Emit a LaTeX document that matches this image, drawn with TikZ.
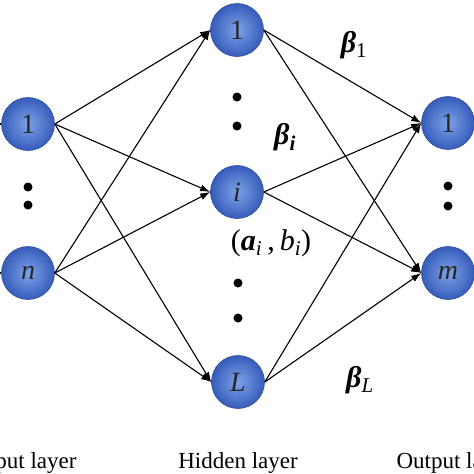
\documentclass[tikz,border=0pt]{standalone}
\usepackage{fontspec}
\setmainfont{Liberation Serif}
\usetikzlibrary{arrows.meta}
\definecolor{ballin}{RGB}{125,162,232}
\definecolor{ballout}{RGB}{55,92,186}
\tikzset{
  neuron/.style={circle, minimum size=53pt, inner sep=0pt, shade, inner color=ballin, outer color=ballout, draw=ballout!85!black, line width=0.6pt, font=\fontsize{28}{30}\selectfont, text=black!85},
  conn/.style={line width=1.1pt, -{Latex[length=10pt,width=7pt]}},
  plain/.style={line width=1.1pt},
  dotc/.style={circle, fill=black, minimum size=9pt, inner sep=0pt},
  lbl/.style={font=\fontsize{23}{26}\selectfont, anchor=base},
  wlbl/.style={font=\fontsize{30}{32}\selectfont}
}
\begin{document}
\begin{tikzpicture}[x=1pt,y=-1pt]
\useasboundingbox (0,0) rectangle (474,474);
\fill[white] (0,0) rectangle (474,474);
% nodes
\node[neuron] (in1) at (28,124) {1};
\node[neuron] (inn) at (28,273) {\textit{n}};
\node[neuron] (h1) at (237,30) {1};
\node[neuron] (hi) at (237,192) {\textit{i}};
\node[neuron] (hL) at (238,382) {\textit{L}};
\node[neuron] (o1) at (448,123) {1};
\node[neuron] (om) at (448,273) {\textit{m}};
% incoming stubs
\coordinate (s1) at (-10,124);
\coordinate (sn) at (-10,273);
\draw[plain] (s1) -- (in1.west);
\draw[plain] (sn) -- (inn.west);
% dots
\node[dotc] (d1) at (28,187) {};
\node[dotc] (d2) at (28,205) {};
\node[dotc] (d3) at (237,97) {};
\node[dotc] (d4) at (237,126) {};
\node[dotc] (d5) at (238,283) {};
\node[dotc] (d6) at (238,318) {};
\node[dotc] (d7) at (448,186) {};
\node[dotc] (d8) at (448,206) {};
% connections
\foreach \a in {in1,inn}{
  \foreach \b in {h1,hi,hL}{
    \draw[conn] (\a.east) -- (\b.west);
  }
}
\foreach \a in {h1,hi,hL}{
  \foreach \b in {o1,om}{
    \draw[conn] (\a.east) -- (\b.west);
  }
}
% labels
\node[wlbl] (b1) at (354,45) {\textbf{\textit{β}}\textsubscript{1}};
\node[wlbl] (bi) at (285,137) {\textbf{\textit{β}}\textsubscript{\textbf{\textit{i}}}};
\node[wlbl] (ab) at (271,243) {(\textbf{\textit{a}}\textsubscript{\textit{i}}\,,\,\textit{b}\textsubscript{\textit{i}})};
\node[wlbl] (bL) at (360,380) {\textbf{\textit{β}}\textsubscript{\textit{L}}};
% layer labels
\node[lbl, anchor=base east] (linp) at (80,468) {Input layer};
\node[lbl] (lhid) at (238,468) {Hidden layer};
\node[lbl, anchor=base west] (lout) at (393,468) {Output layer};
\end{tikzpicture}
\end{document}
